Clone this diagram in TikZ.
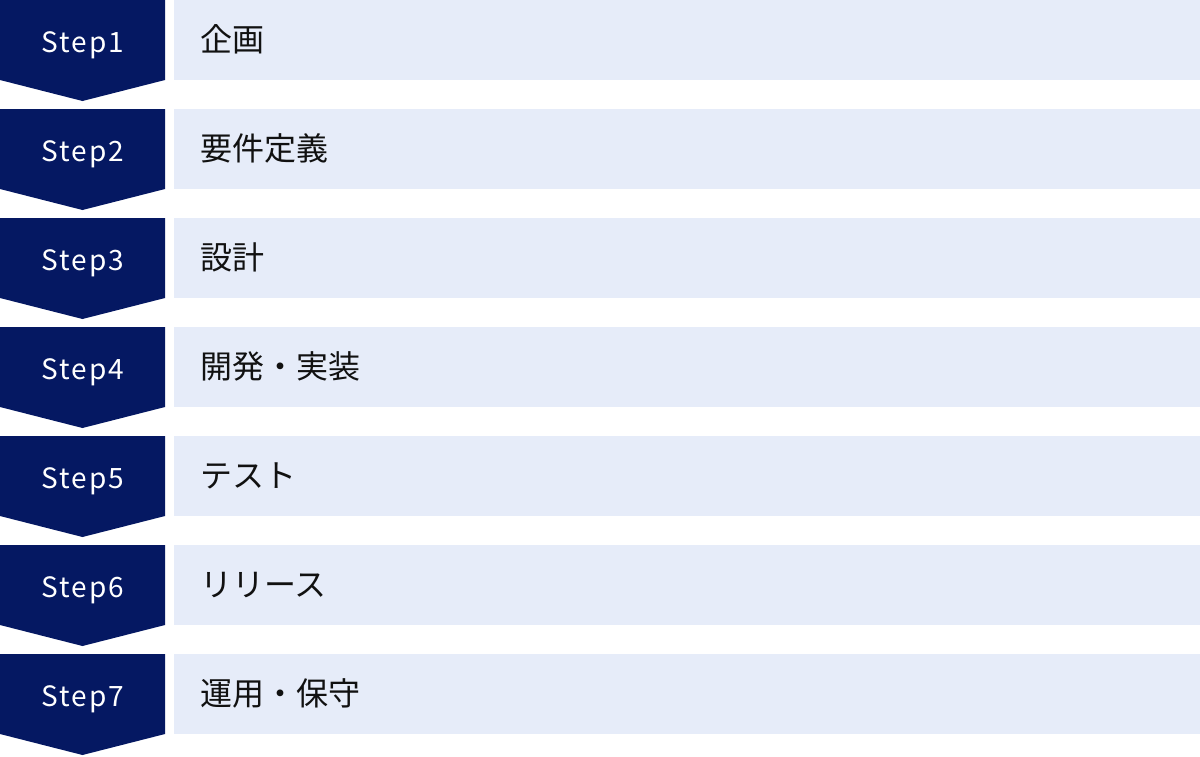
\documentclass[tikz,border=0pt]{standalone}
\usepackage{fontspec}
\newfontfamily\jpfont{Noto Sans CJK JP}
\newfontfamily\stepfont[LetterSpace=7]{Noto Sans CJK JP}
\definecolor{navy}{HTML}{051862}
\definecolor{lightbox}{HTML}{E6ECF9}
\definecolor{txt}{HTML}{111111}
\begin{document}
\begin{tikzpicture}[x=1pt,y=-1pt,
  chev/.style={fill=navy,draw=none},
  panel/.style={fill=lightbox,draw=none},
  steplabel/.style={text=white,font=\stepfont\fontsize{28}{32}\selectfont,inner sep=0pt,anchor=base},
  tasklabel/.style={text=txt,font=\jpfont\fontsize{32}{36}\selectfont,inner sep=0pt,anchor=base west}]
\useasboundingbox (0,0) rectangle (1200,756);
\foreach \i/\t in {1/企画,2/要件定義,3/設計,4/開発・実装,5/テスト,6/リリース,7/運用・保守}{
  \pgfmathsetmacro{\yy}{(\i-1)*109}
  \begin{scope}[yshift={-\yy pt}]
    \fill[chev] (0,0) -- (165,0) -- (165,80) -- (82.5,101) -- (0,80) -- cycle;
    \fill[panel] (174,0) rectangle (1200,80);
    \node[steplabel] (s\i) at (83,52.5) {Step\i};
    \node[tasklabel] (t\i) at (200,51) {\t};
  \end{scope}
}
\end{tikzpicture}
\end{document}
